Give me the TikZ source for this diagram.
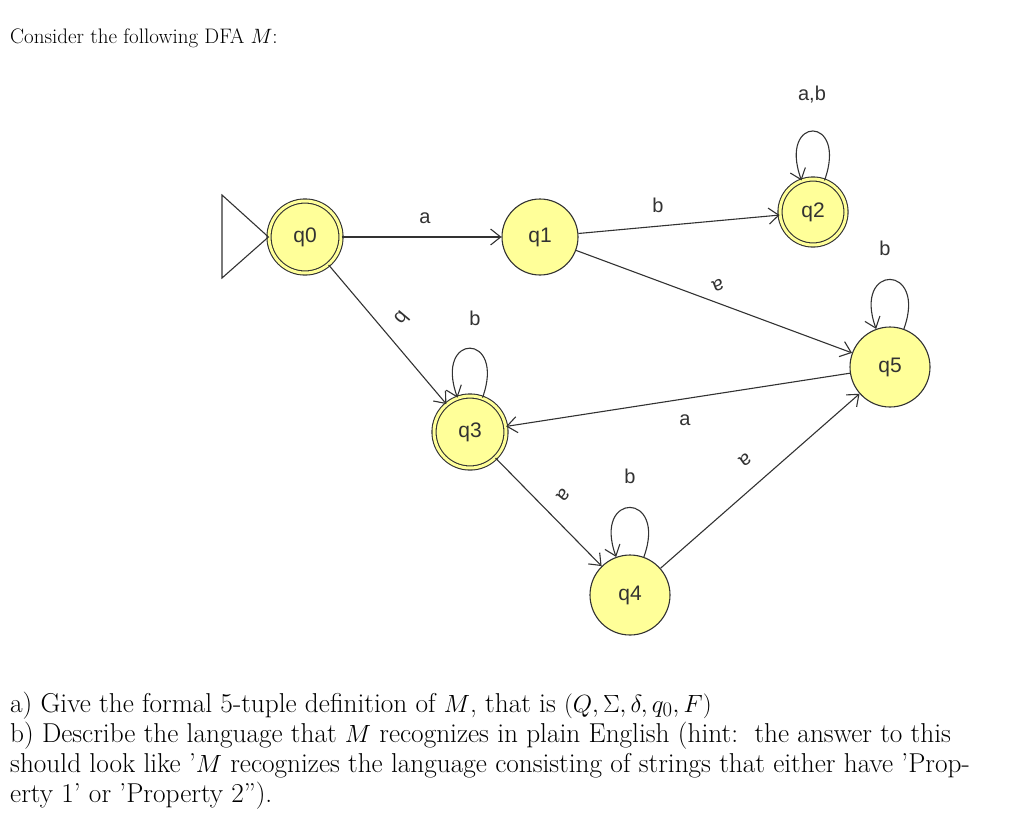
\documentclass[tikz,border=0pt]{standalone}
\usepackage{fontspec}
\newfontfamily\lab{Liberation Sans}
\usetikzlibrary{arrows.meta}
\definecolor{stfill}{RGB}{255,255,153}
\definecolor{stline}{RGB}{50,50,50}
\begin{document}
\begin{tikzpicture}[x=1pt,y=-1pt,
  st/.style={circle,draw=stline,fill=stfill,line width=1.1pt,minimum size=76pt,inner sep=0pt,font=\lab\fontsize{21}{21}\selectfont,text=stline},
  acc/.style={st,double=stfill,double distance=3pt},
  tr/.style={draw=stline,line width=1.1pt,-{Straight Barb[length=10pt,width=16pt]}},
  lp/.style={tr,loop above,out=70,in=110,min distance=70pt},
  el/.style={font=\lab\fontsize{20}{20}\selectfont,text=stline},
  txt/.style={anchor=base west,inner sep=0pt,font=\fontsize{21}{24}\selectfont},
  btxt/.style={txt,font=\fontsize{27.3}{30}\selectfont}]
\useasboundingbox (0,0) rectangle (1024,825);
\node[txt] (t0) at (10,43) {Consider the following DFA $M$:};
\node[acc,minimum size=72pt] (q0) at (305,237) {q0};
\node[st] (q1) at (540,237) {q1};
\node[acc,minimum size=66pt] (q2) at (813,212) {q2};
\node[st,minimum size=80pt] (q5) at (890,367) {q5};
\node[acc,minimum size=72pt] (q3) at (470,432) {q3};
\node[st,minimum size=80pt] (q4) at (630,595) {q4};
\coordinate (ia) at (222,195); \coordinate (ib) at (222,278);
\draw[stline,line width=1.1pt] (ia) -- (ib) -- (q0.west) -- cycle;
\draw[tr] (q0) -- (q1);
\draw[tr] (q1) -- (q2);
\draw[tr] (q1) -- (q5);
\draw[tr] (q0) -- (q3);
\draw[tr] (q5) -- (q3);
\draw[tr] (q3) -- (q4);
\draw[tr] (q4) -- (q5);
\draw[lp] (q2) to (q2);
\draw[lp] (q5) to (q5);
\draw[lp] (q3) to (q3);
\draw[lp] (q4) to (q4);
\node[el] (l1) at (425,218) {a};
\node[el] (l2) at (658,205) {b};
\node[el,rotate=-160] (l3) at (718,285) {a};
\node[el,rotate=-130] (l4) at (402,318) {b};
\node[el] (l5) at (475,318) {b};
\node[el] (l6) at (685,420) {a};
\node[el,rotate=-130] (l7) at (563,495) {a};
\node[el] (l8) at (630,476) {b};
\node[el,rotate=-145] (l9) at (745,460) {a};
\node[el] (l10) at (812,95) {a,b};
\node[el] (l11) at (885,248) {b};
\node[btxt] (t1) at (10,712) {a) Give the formal 5-tuple definition of $M$, that is $(Q,\Sigma,\delta,q_0,F)$};
\node[btxt] (t2) at (10,742) {b) Describe the language that $M$ recognizes in plain English (hint:\ \ the answer to this};
\node[btxt] (t3) at (10,772) {should look like '$M$ recognizes the language consisting of strings that either have 'Prop-};
\node[btxt] (t4) at (10,802) {erty 1' or 'Property 2'').};
\end{tikzpicture}
\end{document}
